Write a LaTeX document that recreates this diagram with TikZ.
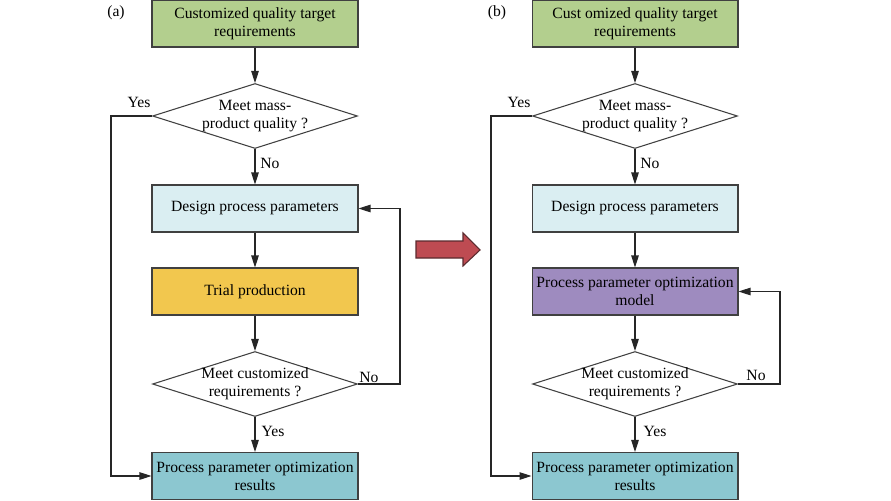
\documentclass[tikz,border=0pt]{standalone}
\usepackage{fontspec}
\setmainfont{Liberation Serif}
\usetikzlibrary{shapes.geometric,arrows.meta}
\definecolor{targetgreen}{HTML}{B3CF8E}
\definecolor{designcyan}{HTML}{DAEEF2}
\definecolor{trialorange}{HTML}{F2C74E}
\definecolor{modelpurple}{HTML}{9E8BBF}
\definecolor{resultteal}{HTML}{8CC7D0}
\definecolor{arrowred}{HTML}{BE4B52}
\definecolor{arrowedge}{HTML}{5A2A2E}
\begin{document}
\begin{tikzpicture}[x=0.02cm,y=-0.02cm,
    every node/.style={font=\fontsize{8.9}{10.3}\selectfont},
    box/.style={draw=black!75,line width=0.6pt,minimum width=4.12cm,minimum height=0.94cm,align=center,inner sep=1pt},
    decision/.style={diamond,draw=black!75,line width=0.6pt,fill=white,minimum width=4.1cm,minimum height=1.3cm,inner sep=0pt},
    arr/.style={-{Triangle[length=2.4mm,width=1.5mm]},line width=0.6pt,black!85}]
    \useasboundingbox (0,0) rectangle (891,500);
    % (a) current way
    \node (lbla) at (116,13) {(a)};
    \node[box,fill=targetgreen] (a1) at (255,23.5) {Customized quality target\\requirements};
    \node[decision,label={[align=center]center:Meet mass-\\product quality ?}] (a2) at (255,116) {};
    \node[box,fill=designcyan] (a3) at (255,208.5) {Design process parameters};
    \node[box,fill=trialorange] (a4) at (255,291.5) {Trial production};
    \node[decision,label={[align=center]center:Meet customized\\requirements ?}] (a5) at (255,384) {};
    \node[box,fill=resultteal] (a6) at (255,476) {Process parameter optimization\\results};
    \node (ayes1) at (139,102) {Yes};
    \node (ano1) at (270,163) {No};
    \node (ano2) at (369,377) {No};
    \node (ayes2) at (273,431) {Yes};
    \draw[arr] (a1) -- (a2);
    \draw[arr] (a2) -- (a3);
    \draw[arr] (a3) -- (a4);
    \draw[arr] (a4) -- (a5);
    \draw[arr] (a5) -- (a6);
    \draw[arr] (a2.west) -- ++(-41,0) |- (a6.west);
    \draw[arr] (a5.east) -- ++(42,0) |- (a3.east);
    % big arrow
    \filldraw[fill=arrowred,draw=arrowedge,line width=0.6pt] (416,241) -- (463,241) -- (463,233) -- (480,250) -- (463,266) -- (463,258) -- (416,258) -- cycle;
    % (b) new way
    \node (lblb) at (497,13) {(b)};
    \node[box,fill=targetgreen] (b1) at (635,23.5) {Cust omized quality target\\requirements};
    \node[decision,label={[align=center]center:Meet mass-\\product quality ?}] (b2) at (635,116) {};
    \node[box,fill=designcyan] (b3) at (635,208.5) {Design process parameters};
    \node[box,fill=modelpurple] (b4) at (635,291.5) {Process parameter optimization\\model};
    \node[decision,label={[align=center]center:Meet customized\\requirements ?}] (b5) at (635,384) {};
    \node[box,fill=resultteal] (b6) at (635,476) {Process parameter optimization\\results};
    \node (byes1) at (519,102) {Yes};
    \node (bno1) at (650,163) {No};
    \node (bno2) at (756,375) {No};
    \node (byes2) at (655,431) {Yes};
    \draw[arr] (b1) -- (b2);
    \draw[arr] (b2) -- (b3);
    \draw[arr] (b3) -- (b4);
    \draw[arr] (b4) -- (b5);
    \draw[arr] (b5) -- (b6);
    \draw[arr] (b2.west) -- ++(-41,0) |- (b6.west);
    \draw[arr] (b5.east) -- ++(42,0) |- (b4.east);
\end{tikzpicture}
\end{document}
